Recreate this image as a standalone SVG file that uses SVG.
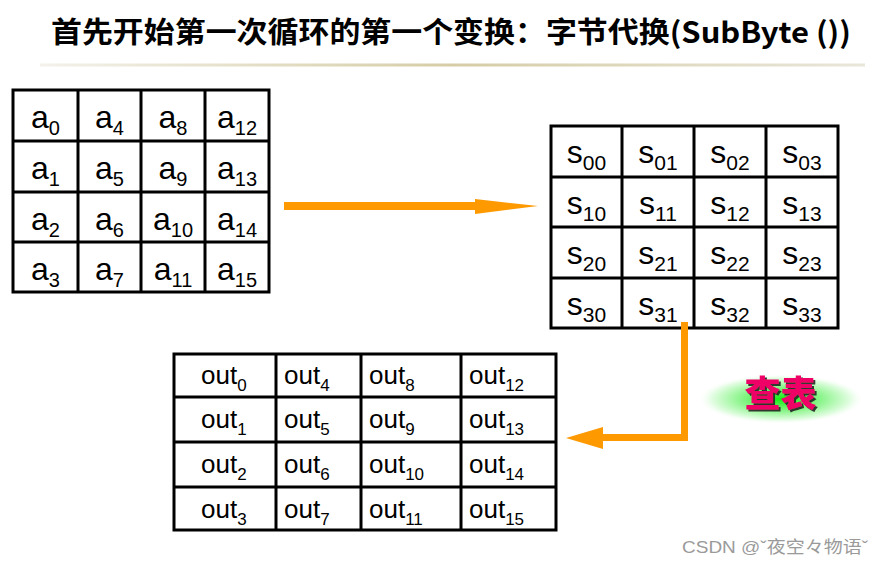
<svg xmlns="http://www.w3.org/2000/svg" width="885" height="565" viewBox="0 0 885 565">
<style>
.grid{fill:none;stroke:#000;stroke-width:3}
.a{font-family:"Liberation Sans",Arial,sans-serif;font-size:32px;fill:#000}
.a .sub{font-size:20px}
.s{font-family:"Liberation Sans",Arial,sans-serif;font-size:32px;fill:#000}
.s .sub{font-size:21px}
.o{font-family:"Liberation Sans",Arial,sans-serif;font-size:26px;fill:#000}
.o .sub{font-size:17px}
.arrow{fill:#ff9900}
</style>
<defs>
<linearGradient id="rule" x1="0" y1="0" x2="1" y2="0">
<stop offset="0" stop-color="#f3f1ea"/>
<stop offset="0.5" stop-color="#d6cda6"/>
<stop offset="1" stop-color="#e9e6da"/>
</linearGradient>
<radialGradient id="glow" cx="0.5" cy="0.5" r="0.5">
<stop offset="0" stop-color="#11ee11"/>
<stop offset="0.5" stop-color="#8ff58f"/>
<stop offset="0.85" stop-color="#e6fde6"/>
<stop offset="1" stop-color="#ffffff" stop-opacity="0"/>
</radialGradient>
<filter id="shadow" x="-10%" y="-10%" width="130%" height="130%">
<feDropShadow dx="2" dy="2" stdDeviation="0.6" flood-color="#222" flood-opacity="0.9"/>
</filter>
</defs>
<rect width="885" height="565" fill="#fff"/>

<g id="title">
<text x="51" y="43" font-family="'Noto Sans CJK SC',sans-serif" font-weight="bold" font-size="29" textLength="800" lengthAdjust="spacingAndGlyphs" fill="#000">首先开始第一次循环的第一个变换：字节代换(SubByte ())</text>
<rect x="40" y="63.5" width="825" height="3" fill="url(#rule)"/>
</g>

<g id="matrix-a">
<rect class="grid" x="13" y="90" width="256" height="202"/>
<path class="grid" d="M78 90V292M141 90V292M205 90V292M13 141H269M13 192H269M13 242H269"/>
<g class="a" text-anchor="middle">
<text x="45.5" y="128">a<tspan class="sub" dy="7">0</tspan></text>
<text x="109.5" y="128">a<tspan class="sub" dy="7">4</tspan></text>
<text x="173" y="128">a<tspan class="sub" dy="7">8</tspan></text>
<text x="237" y="128">a<tspan class="sub" dy="7">12</tspan></text>
<text x="45.5" y="179">a<tspan class="sub" dy="7">1</tspan></text>
<text x="109.5" y="179">a<tspan class="sub" dy="7">5</tspan></text>
<text x="173" y="179">a<tspan class="sub" dy="7">9</tspan></text>
<text x="237" y="179">a<tspan class="sub" dy="7">13</tspan></text>
<text x="45.5" y="230">a<tspan class="sub" dy="7">2</tspan></text>
<text x="109.5" y="230">a<tspan class="sub" dy="7">6</tspan></text>
<text x="173" y="230">a<tspan class="sub" dy="7">10</tspan></text>
<text x="237" y="230">a<tspan class="sub" dy="7">14</tspan></text>
<text x="45.5" y="280">a<tspan class="sub" dy="7">3</tspan></text>
<text x="109.5" y="280">a<tspan class="sub" dy="7">7</tspan></text>
<text x="173" y="280">a<tspan class="sub" dy="7">11</tspan></text>
<text x="237" y="280">a<tspan class="sub" dy="7">15</tspan></text>
</g>
</g>

<g id="matrix-s">
<rect class="grid" x="551" y="126" width="287" height="202"/>
<path class="grid" d="M622 126V328M694 126V328M766 126V328M551 177H838M551 227H838M551 278H838"/>
<g class="s" text-anchor="middle">
<text x="586.5" y="163">s<tspan class="sub" dy="7">00</tspan></text>
<text x="658" y="163">s<tspan class="sub" dy="7">01</tspan></text>
<text x="730" y="163">s<tspan class="sub" dy="7">02</tspan></text>
<text x="802" y="163">s<tspan class="sub" dy="7">03</tspan></text>
<text x="586.5" y="214">s<tspan class="sub" dy="7">10</tspan></text>
<text x="658" y="214">s<tspan class="sub" dy="7">11</tspan></text>
<text x="730" y="214">s<tspan class="sub" dy="7">12</tspan></text>
<text x="802" y="214">s<tspan class="sub" dy="7">13</tspan></text>
<text x="586.5" y="264">s<tspan class="sub" dy="7">20</tspan></text>
<text x="658" y="264">s<tspan class="sub" dy="7">21</tspan></text>
<text x="730" y="264">s<tspan class="sub" dy="7">22</tspan></text>
<text x="802" y="264">s<tspan class="sub" dy="7">23</tspan></text>
<text x="586.5" y="315">s<tspan class="sub" dy="7">30</tspan></text>
<text x="658" y="315">s<tspan class="sub" dy="7">31</tspan></text>
<text x="730" y="315">s<tspan class="sub" dy="7">32</tspan></text>
<text x="802" y="315">s<tspan class="sub" dy="7">33</tspan></text>
</g>
</g>

<g id="matrix-out">
<rect class="grid" x="174" y="354" width="382" height="176"/>
<path class="grid" d="M276 354V530M361 354V530M461 354V530M174 397H556M174 442H556M174 487H556"/>
<g class="o">
<text x="201" y="384">out<tspan class="sub" dy="7">0</tspan></text>
<text x="284" y="384">out<tspan class="sub" dy="7">4</tspan></text>
<text x="369" y="384">out<tspan class="sub" dy="7">8</tspan></text>
<text x="469" y="384">out<tspan class="sub" dy="7">12</tspan></text>
<text x="201" y="428">out<tspan class="sub" dy="7">1</tspan></text>
<text x="284" y="428">out<tspan class="sub" dy="7">5</tspan></text>
<text x="369" y="428">out<tspan class="sub" dy="7">9</tspan></text>
<text x="469" y="428">out<tspan class="sub" dy="7">13</tspan></text>
<text x="201" y="473">out<tspan class="sub" dy="7">2</tspan></text>
<text x="284" y="473">out<tspan class="sub" dy="7">6</tspan></text>
<text x="369" y="473">out<tspan class="sub" dy="7">10</tspan></text>
<text x="469" y="473">out<tspan class="sub" dy="7">14</tspan></text>
<text x="201" y="518">out<tspan class="sub" dy="7">3</tspan></text>
<text x="284" y="518">out<tspan class="sub" dy="7">7</tspan></text>
<text x="369" y="518">out<tspan class="sub" dy="7">11</tspan></text>
<text x="469" y="518">out<tspan class="sub" dy="7">15</tspan></text>
</g>
</g>

<g id="connectors">
<rect class="arrow" x="284" y="202" width="192" height="8"/>
<polygon class="arrow" points="475,199 538,206 475,214"/>
<polyline points="684.5,322 684.5,437.5 600,437.5" fill="none" stroke="#ff9900" stroke-width="7"/>
<polygon class="arrow" points="603,427 566,438 603,449"/>
</g>

<g id="lookup-label">
<rect x="698" y="374" width="166" height="50" fill="url(#glow)"/>
<text x="780.5" y="407" text-anchor="middle" font-family="'Noto Sans CJK SC',sans-serif" font-weight="900" font-size="36" fill="#ee0066" filter="url(#shadow)">查表</text>
</g>

<text x="682" y="553" textLength="186" lengthAdjust="spacingAndGlyphs" font-family="'Liberation Sans','Noto Sans CJK SC',sans-serif" font-size="17" fill="#9a9a9a">CSDN @ˇ夜空々物语ˇ</text>
</svg>
